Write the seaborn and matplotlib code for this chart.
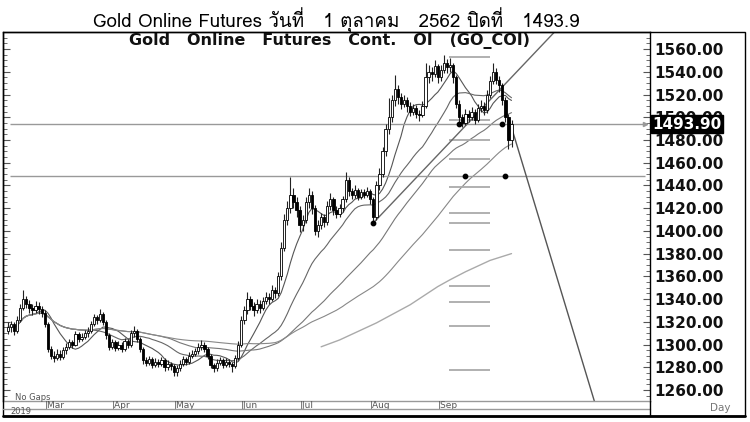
import numpy as np
import pandas as pd
import seaborn as sns
import matplotlib.pyplot as plt
import matplotlib.transforms as mtransforms
from matplotlib import font_manager
from matplotlib.ft2font import FT2Font
from matplotlib.lines import Line2D
from matplotlib.patches import Rectangle
from matplotlib.ticker import MultipleLocator

# daily OHLC, mid Feb 2019 .. 1 Oct 2019
opens = [
    1312, 1315, 1318, 1312, 1322, 1332, 1340, 1336, 1332, 1330, 1334, 1331, 1328, 1318, 1296,
    1290, 1288, 1292, 1289, 1295, 1298, 1302, 1300, 1309, 1305, 1307, 1310, 1312, 1318, 1324,
    1322, 1327, 1320, 1308, 1298, 1302, 1297, 1300, 1296, 1303, 1300, 1310, 1312, 1305, 1296,
    1286, 1284, 1287, 1282, 1285, 1283, 1286, 1280, 1283, 1281, 1276, 1279, 1283, 1287, 1285,
    1290, 1292, 1294, 1298, 1300, 1296, 1290, 1282, 1279, 1284, 1286, 1282, 1285, 1283, 1281,
    1288, 1300, 1322, 1330, 1340, 1334, 1330, 1336, 1332, 1338, 1342, 1340, 1348, 1345, 1360,
    1385, 1410, 1420, 1432, 1425, 1418, 1405, 1410, 1425, 1432, 1420, 1400, 1405, 1412, 1408,
    1422, 1428, 1418, 1415, 1420, 1428, 1445, 1435, 1432, 1436, 1430, 1434, 1432, 1435, 1428,
    1412, 1440, 1450, 1470, 1490, 1500, 1515, 1525, 1518, 1512, 1515, 1510, 1505, 1508, 1503,
    1502, 1510, 1535, 1540, 1538, 1545, 1535, 1542, 1548, 1544, 1546, 1535, 1512, 1500, 1495,
    1503, 1500, 1505, 1498, 1508, 1510, 1506, 1520, 1532, 1540, 1533, 1528, 1515, 1500, 1480,
]
highs = [
    1320, 1321, 1320, 1325, 1336, 1348, 1343, 1339, 1336, 1338, 1337, 1334, 1330, 1320, 1299,
    1294, 1296, 1295, 1298, 1301, 1305, 1304, 1312, 1311, 1310, 1313, 1315, 1321, 1327, 1326,
    1331, 1329, 1322, 1310, 1305, 1304, 1303, 1302, 1306, 1305, 1313, 1316, 1314, 1307, 1298,
    1289, 1290, 1289, 1288, 1287, 1289, 1288, 1286, 1285, 1283, 1282, 1286, 1290, 1289, 1293,
    1295, 1297, 1301, 1304, 1302, 1298, 1292, 1284, 1287, 1289, 1288, 1288, 1287, 1285, 1291,
    1303, 1325, 1334, 1346, 1343, 1337, 1340, 1339, 1342, 1346, 1345, 1352, 1351, 1364, 1390,
    1415, 1426, 1447, 1438, 1430, 1422, 1414, 1430, 1438, 1435, 1423, 1410, 1416, 1415, 1426,
    1433, 1430, 1422, 1424, 1431, 1452, 1447, 1438, 1440, 1438, 1437, 1437, 1439, 1437, 1430,
    1444, 1455, 1474, 1494, 1517, 1520, 1537, 1528, 1521, 1520, 1518, 1513, 1512, 1511, 1506,
    1514, 1548, 1546, 1544, 1550, 1547, 1546, 1555, 1551, 1552, 1548, 1537, 1515, 1503, 1507,
    1506, 1509, 1507, 1512, 1515, 1513, 1524, 1536, 1548, 1543, 1536, 1530, 1518, 1503, 1498,
]
lows = [
    1309, 1311, 1308, 1310, 1320, 1330, 1332, 1328, 1326, 1328, 1327, 1324, 1315, 1293, 1287,
    1285, 1286, 1286, 1287, 1292, 1296, 1297, 1299, 1302, 1303, 1305, 1307, 1310, 1316, 1318,
    1320, 1317, 1305, 1295, 1296, 1294, 1295, 1293, 1294, 1297, 1298, 1307, 1302, 1293, 1283,
    1281, 1282, 1279, 1280, 1280, 1281, 1277, 1278, 1278, 1272, 1272, 1277, 1281, 1282, 1283,
    1288, 1290, 1292, 1295, 1293, 1287, 1279, 1276, 1277, 1282, 1279, 1280, 1280, 1276, 1279,
    1286, 1298, 1318, 1327, 1330, 1325, 1328, 1328, 1330, 1336, 1336, 1338, 1341, 1343, 1357,
    1382, 1405, 1416, 1420, 1412, 1399, 1400, 1407, 1420, 1415, 1396, 1395, 1402, 1403, 1405,
    1418, 1414, 1411, 1412, 1417, 1425, 1431, 1428, 1429, 1427, 1428, 1429, 1430, 1424, 1407,
    1410, 1436, 1447, 1466, 1485, 1496, 1510, 1512, 1507, 1509, 1505, 1501, 1502, 1499, 1497,
    1500, 1508, 1530, 1532, 1535, 1530, 1532, 1539, 1539, 1540, 1530, 1508, 1496, 1491, 1493,
    1496, 1498, 1494, 1496, 1505, 1502, 1504, 1517, 1529, 1529, 1522, 1511, 1496, 1472, 1474,
]
closes = [
    1315, 1318, 1312, 1322, 1332, 1340, 1336, 1332, 1330, 1334, 1331, 1328, 1318, 1296, 1290,
    1288, 1292, 1289, 1295, 1298, 1302, 1300, 1309, 1305, 1307, 1310, 1312, 1318, 1324, 1322,
    1327, 1320, 1308, 1298, 1302, 1297, 1300, 1296, 1303, 1300, 1310, 1312, 1305, 1296, 1286,
    1284, 1287, 1282, 1285, 1283, 1286, 1280, 1283, 1281, 1276, 1279, 1283, 1287, 1285, 1290,
    1292, 1294, 1298, 1300, 1296, 1290, 1282, 1279, 1284, 1286, 1282, 1285, 1283, 1281, 1288,
    1300, 1322, 1330, 1340, 1334, 1330, 1336, 1332, 1338, 1342, 1340, 1348, 1345, 1360, 1385,
    1410, 1420, 1432, 1425, 1418, 1405, 1410, 1425, 1432, 1420, 1400, 1405, 1412, 1408, 1422,
    1428, 1418, 1415, 1420, 1428, 1445, 1435, 1432, 1436, 1430, 1434, 1432, 1435, 1428, 1412,
    1440, 1450, 1470, 1490, 1500, 1515, 1525, 1518, 1512, 1515, 1510, 1505, 1508, 1503, 1502,
    1510, 1535, 1540, 1538, 1545, 1535, 1542, 1548, 1544, 1546, 1535, 1512, 1500, 1495, 1503,
    1500, 1505, 1498, 1508, 1510, 1506, 1520, 1532, 1540, 1533, 1528, 1515, 1500, 1480, 1493.9,
]

month_labels = ['Mar', 'Apr', 'May', 'Jun', 'Jul', 'Aug', 'Sep']
month_start = [12, 34, 54, 76, 95, 118, 140]

ma_windows = [10, 25, 50, 75]
ma_long_idx = [102, 108, 120, 131, 140, 144, 149, 157, 164]
ma_long_val = [1298, 1304, 1319, 1335, 1351, 1357, 1364, 1374, 1380]

level_values = [1553, 1497.5, 1480, 1463, 1438.6, 1415.7, 1407, 1383, 1351.5, 1337.4, 1316, 1278]
last_close = 1493.9
support = 1448

dot_idx = [119, 147, 161, 149, 162]
dot_val = [1407, 1493.9, 1493.9, 1448, 1448]

trend_up_idx = [119, 178]
trend_up_val = [1407, 1575]
trend_down_idx = [163, 191]
trend_down_val = [1500, 1250]

ticks = list(range(1260, 1561, 20))


def thai_font():
    # any installed font that actually has Thai glyphs
    seen = set()
    for f in font_manager.fontManager.ttflist:
        if f.name in seen:
            continue
        seen.add(f.name)
        try:
            cmap = FT2Font(f.fname).get_charmap()
        except Exception:
            continue
        if ord('ว') in cmap and ord('G') in cmap:
            return f.name
    return None


def main():
    sns.set_theme(style='white')
    plt.rcParams['font.family'] = ['DejaVu Sans']

    W, H = 750, 422
    fig = plt.figure(figsize=(7.5, 4.22), dpi=100)
    ax = fig.add_axes([3 / W, 1 - 401 / H, 647 / W, 369 / H])

    df = pd.DataFrame({'open': opens, 'high': highs, 'low': lows, 'close': closes})
    df['idx'] = np.arange(len(df))

    # moving averages
    ma = []
    for w in ma_windows:
        m = df['close'].rolling(w, min_periods=1).mean()
        ma.append(pd.DataFrame({'idx': df['idx'], 'value': m, 'window': str(w)}))
    ma = pd.concat(ma)
    sns.lineplot(data=ma, x='idx', y='value', hue='window',
                 palette=['#555555', '#666666', '#777777', '#888888'],
                 linewidth=0.8, legend=False, ax=ax)
    sns.lineplot(x=ma_long_idx, y=ma_long_val, color='#aaaaaa', linewidth=1.0, ax=ax)

    # levels
    ax.hlines([last_close, support], 0.6, 207.5, color='#999999', linewidth=1.0)
    ax.plot([207.5], [last_close], marker='>', markersize=3, color='#999999')
    ax.hlines(level_values, 143.5, 157, color='#aaaaaa', linewidth=1.3)

    # candles
    up = df['close'] >= df['open']
    ax.vlines(df['idx'], df['low'], df['high'], color='#222222', linewidth=0.8, zorder=3)
    ax.bar(df['idx'], (df['close'] - df['open']).abs().clip(lower=0.4),
           bottom=df[['open', 'close']].min(axis=1), width=0.75,
           color=np.where(up, 'white', 'black'), edgecolor='black', linewidth=0.6, zorder=4)

    # trend lines and dots
    ax.plot(trend_up_idx, trend_up_val, color='#666666', linewidth=1.0)
    ax.plot(trend_down_idx, trend_down_val, color='#555555', linewidth=1.0)
    ax.scatter(dot_idx, dot_val, s=10, color='black', zorder=5)

    ax.set_xlim(-1.6, 209.1)
    ax.set_ylim(1250.3, 1575)
    ax.set_xlabel('')
    ax.set_ylabel('')
    ax.set_xticks([])

    ax.yaxis.tick_right()
    ax.set_yticks(ticks)
    ax.set_yticklabels([f'{v:.2f}' for v in ticks])
    ax.yaxis.set_minor_locator(MultipleLocator(5))
    ax.tick_params(axis='y', which='both', left=True, right=True, labelleft=False,
                   labelright=True, direction='in', color='#555555')
    ax.tick_params(axis='y', which='major', length=5, width=0.8, pad=3, labelsize=11)
    ax.tick_params(axis='y', which='minor', length=3, width=0.6)
    for lab in ax.get_yticklabels():
        lab.set_fontweight('bold')
        lab.set_color('#111111')

    for side in ['left', 'right', 'top']:
        ax.spines[side].set_color('black')
        ax.spines[side].set_linewidth(1.0)
    ax.spines['bottom'].set_color('#999999')
    ax.spines['bottom'].set_linewidth(1.0)

    # last price tag
    tr = mtransforms.blended_transform_factory(ax.transAxes, ax.transData)
    ax.text(1.004, last_close, f'{last_close:.2f}', transform=tr, ha='left', va='center',
            color='white', fontsize=11, fontweight='bold', zorder=10, clip_on=False,
            bbox=dict(boxstyle='square,pad=0.08', fc='black', ec='black'))

    # date strip
    trx = mtransforms.blended_transform_factory(ax.transData, ax.transAxes)
    for lab, pos in zip(month_labels, month_start):
        ax.text(pos, -0.011, '|' + lab, transform=trx, ha='left', va='center',
                fontsize=6.5, color='#555555', clip_on=False)
    fig.add_artist(Line2D([3 / W, 650 / W], [1 - 409 / H] * 2, color='#999999', lw=1.0))
    fig.add_artist(Line2D([3 / W, 745 / W], [1 - 416 / H] * 2, color='black', lw=2.0))
    fig.add_artist(Line2D([650 / W, 650 / W], [1 - 416 / H, 1 - 401 / H], color='black', lw=1.0))
    fig.add_artist(Rectangle((3 / W, 1 - 416 / H), 742 / W, 384 / H, fill=False,
                             edgecolor='black', lw=1.0, transform=fig.transFigure))
    fig.text(10 / W, 1 - 412 / H, '2019', fontsize=6, color='#555555', va='center')
    fig.text(15 / W, 1 - 397 / H, 'No Gaps', fontsize=6, color='#555555', va='center')
    fig.text(710 / W, 1 - 408 / H, 'Day', fontsize=7.5, color='#777777', va='center')

    # titles
    ax.text(0.505, 0.975, 'Gold   Online   Futures   Cont.   OI   (GO_COI)', transform=ax.transAxes,
            ha='center', va='center', fontsize=11.5, fontweight='bold', color='#111111')
    tf = thai_font()
    fam = [tf, 'DejaVu Sans'] if tf else ['DejaVu Sans']
    fig.text(336 / W, 1 - 20 / H, 'Gold Online Futures วันที่   1 ตุลาคม   2562 ปิดที่   1493.9',
             ha='center', va='center', fontsize=13.5, family=fam, color='black')

    plt.savefig('out.png', dpi=100)


if __name__ == '__main__':
    main()
